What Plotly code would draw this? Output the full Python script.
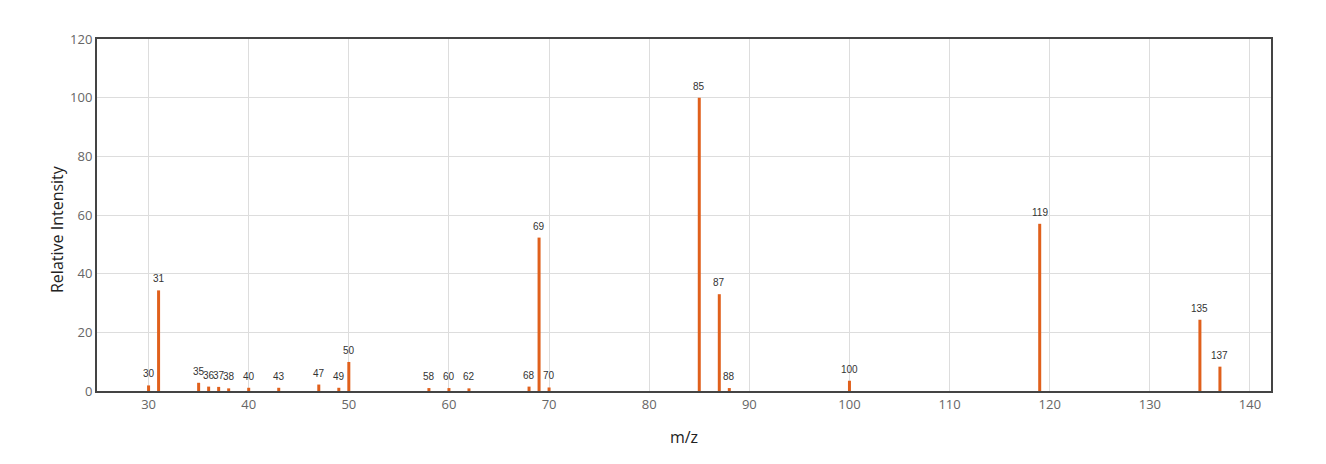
import plotly.graph_objects as go

# Mass spectrum peaks (m/z, relative intensity)
mz = [30, 31, 35, 36, 37, 38, 40, 43, 47, 49, 50, 58, 60, 62,
      68, 69, 70, 85, 87, 88, 100, 119, 135, 137]
intensity = [1.9, 34.3, 2.8, 1.5, 1.4, 0.9, 1.1, 1.1, 2.2, 1.1, 9.9, 1.0, 1.0, 0.9,
             1.5, 52.3, 1.2, 100.0, 33.0, 1.0, 3.5, 57.0, 24.3, 8.3]
labels = [str(m) for m in mz]

fig = go.Figure()
fig.add_trace(go.Bar(
    x=mz,
    y=intensity,
    width=0.3,
    marker=dict(color='#e0601c', line=dict(width=0)),
))

# peak labels above each bar
for m, v, t in zip(mz, intensity, labels):
    fig.add_annotation(
        x=m, y=v, text=t,
        showarrow=False,
        yanchor='bottom',
        yshift=4,
        font=dict(size=10, color='#333', family='Arial, Liberation Sans, sans-serif'),
    )

# y axis title sits a bit below the middle in the original
fig.add_annotation(
    x=0, y=0.5, xref='paper', yref='paper',
    text='Relative Intensity',
    textangle=-90,
    showarrow=False,
    xanchor='center', yanchor='middle',
    xshift=-40, yshift=-14,
    font=dict(size=16, color='#222', family='Open Sans, sans-serif'),
)

fig.update_layout(
    width=1326,
    height=464,
    margin=dict(l=89, r=63, t=31, b=81),
    plot_bgcolor='white',
    paper_bgcolor='white',
    showlegend=False,
    font=dict(family='Open Sans, sans-serif'),
)

fig.update_xaxes(
    title=dict(text='m/z', font=dict(size=16, color='#222'), standoff=20),
    range=[24.85, 142.1],
    tickvals=list(range(30, 141, 10)),
    tickfont=dict(size=13, color='#666'),
    showgrid=True,
    gridcolor='#dddddd',
    zeroline=False,
    showline=True,
    linecolor='#444',
    linewidth=2,
    mirror=True,
    ticks='',
)
fig.update_yaxes(
    range=[0, 120],
    tickvals=list(range(0, 121, 20)),
    tickfont=dict(size=13, color='#666'),
    showgrid=True,
    gridcolor='#dddddd',
    zeroline=False,
    showline=True,
    linecolor='#444',
    linewidth=2,
    mirror=True,
    ticks='',
)

fig.write_html("out.html")
